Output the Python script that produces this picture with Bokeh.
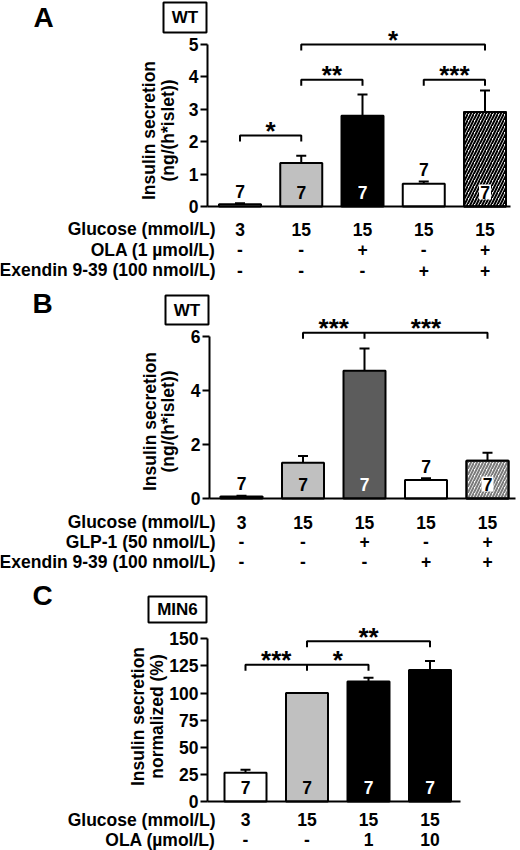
import math

from bokeh.core.properties import value
from bokeh.embed import file_html
from bokeh.layouts import column
from bokeh.models import FixedTicker, LinearAxis, Range1d
from bokeh.plotting import figure
from bokeh.resources import INLINE

FONT = "Liberation Sans"

# ---------------- Panel A: WT islets, OLA with / without exendin 9-39 ----------------
a_pos = [1, 2, 3, 4, 5]
a_mean = [0.07, 1.34, 2.80, 0.70, 2.92]
a_sem = [0.03, 0.23, 0.66, 0.07, 0.66]
a_n = ["7", "7", "7", "7", "7"]
a_ticks = [0, 1, 2, 3, 4, 5]
a_rows = ["Glucose (mmol/L)", "OLA (1 µmol/L)", "Exendin 9-39 (100 nmol/L)"]
a_cells = [["3", "15", "15", "15", "15"],
           ["-", "-", "+", "-", "+"],
           ["-", "-", "-", "+", "+"]]
# brackets: bar positions joined, height, star labels between consecutive positions
a_sig = [([1, 2], 2.19, ["*"]),
         ([2, 3], 3.91, ["**"]),
         ([4, 5], 3.91, ["***"]),
         ([2, 5], 5.0, ["*"])]

# ---------------- Panel B: WT islets, GLP-1 with / without exendin 9-39 ----------------
b_pos = [1, 2, 3, 4, 5]
b_mean = [0.07, 1.33, 4.74, 0.69, 1.40]
b_sem = [0.03, 0.25, 0.83, 0.06, 0.30]
b_n = ["7", "7", "7", "7", "7"]
b_ticks = [0, 2, 4, 6]
b_rows = ["Glucose (mmol/L)", "GLP-1 (50 nmol/L)", "Exendin 9-39 (100 nmol/L)"]
b_cells = [["3", "15", "15", "15", "15"],
           ["-", "-", "+", "-", "+"],
           ["-", "-", "-", "+", "+"]]
b_sig = [([2, 3, 5], 6.15, ["***", "***"])]

# ---------------- Panel C: MIN6 cells, OLA dose ----------------
c_pos = [1, 2, 3, 4]
c_mean = [26.5, 100.0, 110.7, 121.1]
c_sem = [2.7, 0.0, 3.3, 8.3]
c_n = ["7", "7", "7", "7"]
c_ticks = [0, 25, 50, 75, 100, 125, 150]
c_rows = ["Glucose (mmol/L)", "OLA (µmol/L)"]
c_cells = [["3", "15", "15", "15"],
           ["-", "-", "1", "10"]]
c_sig = [([1, 2, 3], 126.0, ["***", "*"]),
         ([2, 4], 147.7, ["**"])]

# ---------------- styling ----------------
LIGHT = "#c0c0c0"
DARK = "#5c5c5c"
a_style = dict(fill=["white", LIGHT, "black", "white", "white"],
               hatch=[None, None, None, None, "black"])
b_style = dict(fill=["white", LIGHT, DARK, "white", "white"],
               hatch=[None, None, None, None, "#7a7a7a"])
c_style = dict(fill=["white", LIGHT, "black", "black"],
               hatch=[None, None, None, None])

# layout, in pixels of each panel's canvas (y measured from the panel top)
A_GEOM = dict(height=283, axis_x=207, right=510, zero=206, ppu=32.4,
              first=239.5, step=61.25,
              rows_y=[228.5, 249, 269.5], head_x=215,
              title_x=[148, 167], title_y=130, letter=(33, 17),
              tag_box=(163, 206, 2, 32))
B_GEOM = dict(height=289, axis_x=209, right=515, zero=215, ppu=26.95,
              first=241, step=61.5,
              rows_y=[238.5, 258, 278], head_x=215,
              title_x=[149, 167], title_y=138, letter=(32, 20),
              tag_box=(165, 208, 12, 41))
C_GEOM = dict(height=278, axis_x=207, right=460, zero=229, ppu=1.085,
              first=245, step=61.5,
              rows_y=[247, 267], head_x=215,
              title_x=[137, 156], title_y=144, letter=(32, 23),
              tag_box=(148, 206, 24, 50))

TXT = "17.5px"


def bold(size):
    return dict(text_font=value(FONT), text_font_style="bold", text_font_size=size)


def panel(letter, tag, title, pos, mean, sem, n, ticks, rows, cells, sig, style, g):
    W, H = 520, g["height"]

    def dx(px):
        return pos[0] + (px - g["first"]) / g["step"]

    def dy(py):
        return (g["zero"] - py) / g["ppu"]

    ux = 1.0 / g["step"]   # data units per pixel, x
    uy = 1.0 / g["ppu"]    # data units per pixel, y

    p = figure(width=W, height=H, x_range=Range1d(dx(0), dx(W)), y_range=Range1d(dy(H), dy(0)),
               x_axis_type=None, y_axis_type=None, title=None,
               toolbar_location=None, output_backend="svg",
               min_border_left=0, min_border_right=0, min_border_top=0, min_border_bottom=0)
    p.outline_line_color = None
    p.background_fill_color = "white"
    p.border_fill_color = "white"

    yaxis = LinearAxis(ticker=FixedTicker(ticks=ticks), bounds=(ticks[0], ticks[-1]),
                       fixed_location=dx(g["axis_x"]))
    yaxis.axis_line_width = 2
    yaxis.axis_line_color = "black"
    yaxis.major_tick_line_width = 2
    yaxis.major_tick_line_color = "black"
    yaxis.major_tick_out = 7
    yaxis.major_tick_in = 0
    yaxis.minor_tick_line_color = None
    yaxis.major_label_standoff = 2
    yaxis.major_label_text_color = "black"
    yaxis.major_label_text_font = FONT
    yaxis.major_label_text_font_style = "bold"
    yaxis.major_label_text_font_size = TXT
    p.add_layout(yaxis, "left")

    xaxis = LinearAxis(ticker=FixedTicker(ticks=[]), fixed_location=0,
                       bounds=(dx(g["axis_x"]), dx(g["right"])))
    xaxis.axis_line_width = 2
    xaxis.axis_line_color = "black"
    xaxis.major_tick_line_color = None
    xaxis.minor_tick_line_color = None
    xaxis.major_label_text_font_size = "0px"
    p.add_layout(xaxis, "below")

    bw = 42 * ux
    p.vbar(x=pos, top=mean, bottom=0, width=bw, fill_color=style["fill"],
           line_color="black", line_width=2)
    hx = [x for x, h in zip(pos, style["hatch"]) if h]
    if hx:
        hm = [m for m, h in zip(mean, style["hatch"]) if h]
        hc = [h for h in style["hatch"] if h]
        p.vbar(x=hx, top=hm, bottom=0, width=bw, fill_alpha=0,
               hatch_pattern="/", hatch_color=hc, hatch_scale=6, hatch_weight=2,
               line_color="black", line_width=2)

    # upper error whiskers
    ex = [x for x, s in zip(pos, sem) if s > 0]
    e0 = [m for m, s in zip(mean, sem) if s > 0]
    e1 = [m + s for m, s in zip(mean, sem) if s > 0]
    p.segment(x0=ex, y0=e0, x1=ex, y1=e1, line_color="black", line_width=2)
    cap = 5 * ux
    p.segment(x0=[x - cap for x in ex], y0=e1, x1=[x + cap for x in ex], y1=e1,
              line_color="black", line_width=2)

    # n per group: inside tall bars, above short ones
    ny, ncol = [], []
    for m, s, f in zip(mean, sem, style["fill"]):
        if m / uy >= 25:
            ny.append(14.5 * uy)
        else:
            ny.append(m + s + 12 * uy)
        ncol.append("white" if f in ("black", DARK) else "black")
    hatched = [i for i, h in enumerate(style["hatch"]) if h]
    if hatched:
        # a small white patch behind the count keeps it legible over the hatching
        p.rect(x=[pos[i] for i in hatched], y=[ny[i] for i in hatched],
               width=12 * ux, height=15 * uy, fill_color="white", line_color=None)
    p.text(x=pos, y=ny, text=n, text_color=ncol, text_align="center",
           text_baseline="middle", **bold(TXT))

    # significance brackets
    drop = 6 * uy
    bxs, bys, sx, sy, st = [], [], [], [], []
    for xpts, yb, labs in sig:
        bxs.append([xpts[0], xpts[0], xpts[-1], xpts[-1]])
        bys.append([yb - drop, yb, yb, yb - drop])
        for xm in xpts[1:-1]:
            bxs.append([xm, xm])
            bys.append([yb, yb - drop])
        for xa, xb, lab in zip(xpts[:-1], xpts[1:], labs):
            sx.append((xa + xb) / 2)
            sy.append(yb + 4.5 * uy)
            st.append(lab)
    p.multi_line(xs=bxs, ys=bys, line_color="black", line_width=2)
    p.text(x=sx, y=sy, text=st, text_color="black", text_align="center",
           text_baseline="middle", **bold("26px"))

    # condition table under the bars
    for r, (head, vals) in enumerate(zip(rows, cells)):
        yr = dy(g["rows_y"][r])
        p.text(x=[dx(g["head_x"])], y=[yr], text=[head], text_align="right",
               text_baseline="middle", text_color="black", **bold(TXT))
        p.text(x=pos, y=[yr] * len(pos), text=vals, text_align="center",
               text_baseline="middle", text_color="black", **bold(TXT))

    # y-axis title on two lines
    for line, tx in zip(title, g["title_x"]):
        p.text(x=[dx(tx)], y=[dy(g["title_y"])], text=[line], angle=math.pi / 2,
               text_align="center", text_baseline="middle", text_color="black",
               **bold(TXT))

    # panel letter
    lx, ly = g["letter"]
    p.text(x=[dx(lx)], y=[dy(ly)], text=[letter], text_align="left",
           text_baseline="middle", text_color="black", **bold("28px"))

    # boxed model tag
    bl, br, bt, bb = g["tag_box"]
    p.quad(left=[dx(bl)], right=[dx(br)], top=[dy(bt)], bottom=[dy(bb)],
           fill_color="white", line_color="black", line_width=2)
    p.text(x=[dx((bl + br) / 2)], y=[dy((bt + bb) / 2)], text=[tag],
           text_align="center", text_baseline="middle", text_color="black",
           **bold("17px"))
    return p


pa = panel("A", "WT", ["Insulin secretion", "(ng/(h*islet))"], a_pos, a_mean, a_sem,
           a_n, a_ticks, a_rows, a_cells, a_sig, a_style, A_GEOM)
pb = panel("B", "WT", ["Insulin secretion", "(ng/(h*islet))"], b_pos, b_mean, b_sem,
           b_n, b_ticks, b_rows, b_cells, b_sig, b_style, B_GEOM)
pc = panel("C", "MIN6", ["Insulin secretion", "normalized (%)"], c_pos, c_mean, c_sem,
           c_n, c_ticks, c_rows, c_cells, c_sig, c_style, C_GEOM)

layout = column(pa, pb, pc, spacing=0)
open("out.html", "w").write(file_html(layout, INLINE))
